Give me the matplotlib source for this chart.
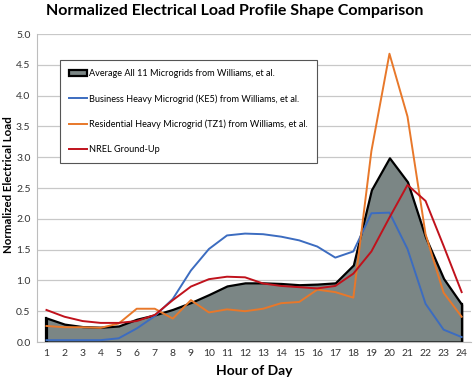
import matplotlib
matplotlib.use("Agg")
import matplotlib.pyplot as plt
import numpy as np

plt.rcParams['font.family'] = ['Lato', 'DejaVu Sans']

hours = list(range(1, 25))

# average of all 11 microgrids (grey area)
avg_load = [0.39, 0.29, 0.25, 0.24, 0.26, 0.37, 0.44, 0.53, 0.64, 0.77, 0.91, 0.96,
            0.96, 0.95, 0.93, 0.94, 0.96, 1.25, 2.47, 2.99, 2.60, 1.70, 1.03, 0.61]
business = [0.03, 0.03, 0.03, 0.03, 0.06, 0.22, 0.42, 0.70, 1.16, 1.51, 1.73, 1.76,
            1.75, 1.71, 1.65, 1.55, 1.37, 1.47, 2.09, 2.10, 1.51, 0.62, 0.20, 0.08]
residential = [0.26, 0.24, 0.24, 0.23, 0.30, 0.54, 0.54, 0.38, 0.68, 0.48, 0.53, 0.50,
               0.54, 0.63, 0.65, 0.85, 0.81, 0.72, 3.10, 4.68, 3.66, 1.75, 0.80, 0.41]
nrel = [0.52, 0.41, 0.34, 0.31, 0.31, 0.34, 0.44, 0.68, 0.90, 1.02, 1.06, 1.05,
        0.95, 0.91, 0.89, 0.87, 0.91, 1.11, 1.47, 2.02, 2.55, 2.29, 1.56, 0.81]

labels = ['Average All 11 Microgrids from Williams, et al.',
          'Business Heavy Microgrid (KE5) from Williams, et al.',
          'Residential Heavy Microgrid (TZ1) from Williams, et al.',
          'NREL Ground-Up']

fig = plt.figure(figsize=(4.74, 3.8), dpi=100)
ax = fig.add_axes([0.079, 0.10, 0.914, 0.8105])

ax.fill_between(hours, avg_load, 0, facecolor='#7b8685', edgecolor='black',
                linewidth=1.6, label=labels[0], zorder=2)
ax.plot([1, 1], [0, avg_load[0]], color='black', lw=1.6, zorder=2)
ax.plot([24, 24], [0, avg_load[-1]], color='black', lw=1.6, zorder=2)
ax.plot(hours, business, color='#3c6cc0', lw=1.4, label=labels[1], zorder=3)
ax.plot(hours, residential, color='#e8782a', lw=1.4, label=labels[2], zorder=3)
ax.plot(hours, nrel, color='#c0121c', lw=1.4, label=labels[3], zorder=4)

ax.set_xlim(0.5, 24.5)
ax.set_ylim(0, 5)
ax.set_xticks(hours)
ax.set_yticks(np.arange(0, 5.01, 0.5))
ax.set_yticklabels([f'{v:.1f}' for v in np.arange(0, 5.01, 0.5)])
ax.tick_params(length=0, labelsize=7.5, colors='#333333', pad=5)
ax.yaxis.grid(True, color='#c8c8c8', lw=0.9, zorder=0)
ax.set_axisbelow(True)
for s in ['top', 'right']:
    ax.spines[s].set_visible(False)
ax.spines['left'].set_color('#bdbdbd')
ax.spines['bottom'].set_color('#bdbdbd')

ax.set_xlabel('Hour of Day', fontsize=10, fontweight='bold', labelpad=5)
ax.set_ylabel('Normalized Electrical Load', fontsize=8.3, fontweight='bold')
ax.yaxis.set_label_coords(-0.053, 0.51)
fig.suptitle('Normalized Electrical Load Profile Shape Comparison', fontsize=11.5,
             fontweight='bold', x=0.496, y=0.99)

leg = ax.legend(loc='upper left', bbox_to_anchor=(0.052, 0.916), borderaxespad=0,
                fontsize=6.6, labelspacing=1.75, handlelength=2.0, handletextpad=0.2,
                fancybox=False, edgecolor='#555555', framealpha=1, borderpad=1.0)
leg.get_frame().set_linewidth(0.8)

fig.savefig('out.png', dpi=100)
